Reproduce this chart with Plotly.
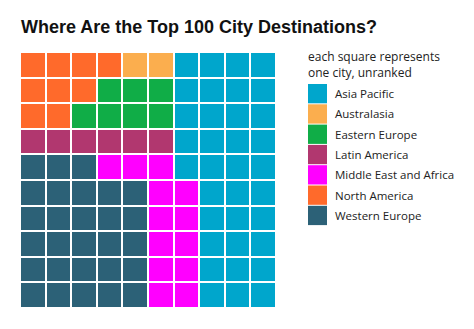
import plotly.graph_objects as go

W, H = 474, 329

categories = ["Asia Pacific", "Australasia", "Eastern Europe", "Latin America",
              "Middle East and Africa", "North America", "Western Europe"]
colors = ["#00A6CC", "#FBAE4E", "#10AD47", "#B1376F", "#FF00FF", "#FF6A2B", "#2C6177"]

# waffle grid, top row first; codes index into categories
AP, AU, EE, LA, ME, NA, WE = range(7)
grid_rows = [
    [NA, NA, NA, NA, AU, AU, AP, AP, AP, AP],
    [NA, NA, NA, EE, EE, EE, AP, AP, AP, AP],
    [NA, NA, EE, EE, EE, EE, AP, AP, AP, AP],
    [LA, LA, LA, LA, LA, LA, AP, AP, AP, AP],
    [WE, WE, WE, ME, ME, ME, AP, AP, AP, AP],
    [WE, WE, WE, WE, WE, ME, ME, AP, AP, AP],
    [WE, WE, WE, WE, WE, ME, ME, AP, AP, AP],
    [WE, WE, WE, WE, WE, ME, ME, AP, AP, AP],
    [WE, WE, WE, WE, WE, ME, ME, AP, AP, AP],
    [WE, WE, WE, WE, WE, ME, ME, AP, AP, AP],
]

title_text = "Where Are the Top 100 City Destinations?"
note_lines = ["each square represents", "one city, unranked"]

n = len(categories)
cs = []
for i, c in enumerate(colors):
    cs.append([i / n, c])
    cs.append([(i + 1) / n, c])

fig = go.Figure()
fig.add_trace(go.Heatmap(
    z=grid_rows,
    x=list(range(10)),
    y=list(range(10)),
    colorscale=cs,
    zmin=-0.5, zmax=n - 0.5,
    showscale=False,
    xgap=2, ygap=2,
    hoverinfo="skip",
))

def px(x):
    return x / W

def py(y):
    return 1 - y / H

gx0, gx1, gy0, gy1 = 20, 276, 52, 308

shapes = []
annotations = []
sw_x0, sw_x1 = 308, 327
sw_top, pitch = 84, 20.3
for i, (cat, col) in enumerate(zip(categories, colors)):
    t = sw_top + i * pitch
    shapes.append(dict(type="rect", xref="paper", yref="paper",
                       x0=px(sw_x0), x1=px(sw_x1), y0=py(t + pitch - 1), y1=py(t),
                       fillcolor=col, line=dict(width=0)))
    annotations.append(dict(text=cat, xref="paper", yref="paper",
                            x=px(333), y=py(t + (pitch - 1) / 2),
                            xanchor="left", yanchor="middle", showarrow=False,
                            font=dict(family="Open Sans, Liberation Sans, sans-serif",
                                      size=11.5, color="#222222")))
annotations.append(dict(text="<br>".join(note_lines), xref="paper", yref="paper",
                        x=px(306), y=py(64), align="left",
                        xanchor="left", yanchor="middle", showarrow=False,
                        font=dict(family="Open Sans, Liberation Sans, sans-serif",
                                  size=12, color="#222222")))
annotations.append(dict(text="<b>" + title_text + "</b>", xref="paper", yref="paper",
                        x=px(19), y=py(27), xanchor="left", yanchor="middle",
                        showarrow=False,
                        font=dict(family="Liberation Sans, Arial, sans-serif",
                                  size=18, color="#111111")))

fig.update_layout(
    width=W, height=H,
    margin=dict(l=0, r=0, t=0, b=0),
    paper_bgcolor="white", plot_bgcolor="white",
    xaxis=dict(domain=[px(gx0), px(gx1)], range=[-0.5, 9.5], visible=False, fixedrange=True),
    yaxis=dict(domain=[py(gy1), py(gy0)], range=[9.5, -0.5], visible=False, fixedrange=True),
    shapes=shapes,
    annotations=annotations,
    showlegend=False,
)

fig.write_html("out.html")
